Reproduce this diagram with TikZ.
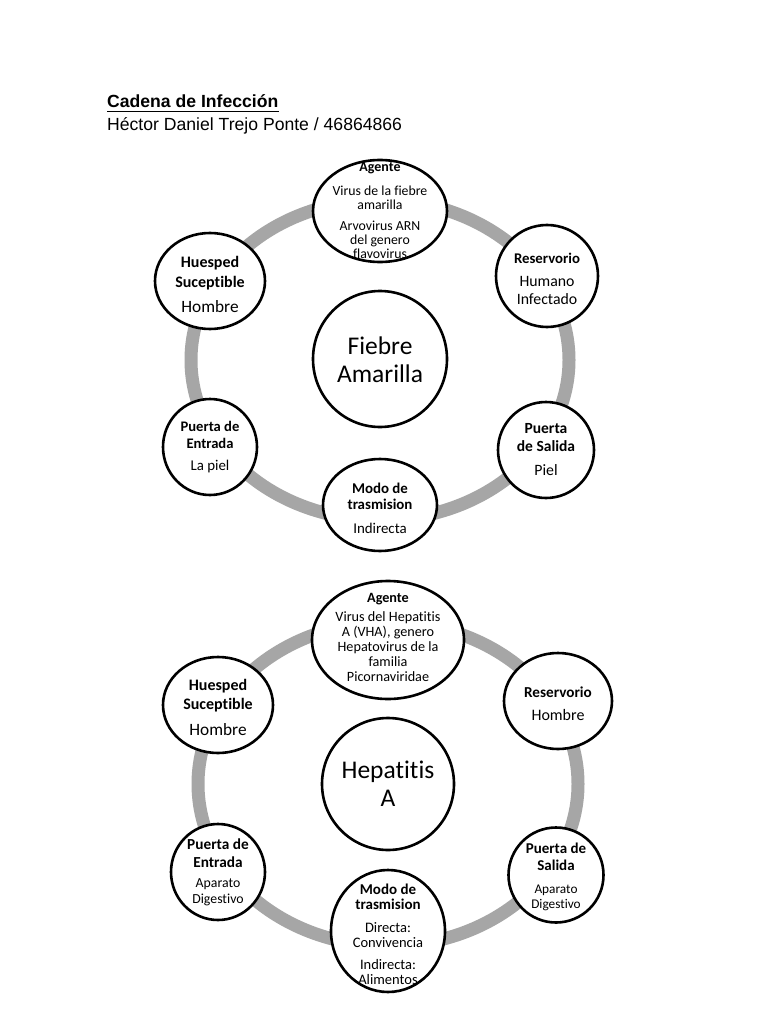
\documentclass[tikz,border=0pt]{standalone}
\usepackage{fontspec}
\setmainfont{Liberation Sans}
\newfontfamily\carl[Ligatures=CommonOff]{Carlito}
\newfontfamily\arialf{Liberation Sans}
\usetikzlibrary{shapes.geometric}
\definecolor{ringgray}{RGB}{166,166,166}
\tikzset{
  ringline/.style={draw=ringgray, line width=13pt},
  bub/.style={draw=black, line width=2.6pt, fill=white, ellipse, inner sep=0pt, outer sep=0pt},
  txt/.style={align=center, inner sep=0pt},
  big/.style={align=center, inner sep=0pt, font=\carl\fontsize{25.5}{28}\selectfont},
}
\newcommand{\fs}[2]{\carl\fontsize{#1}{#2}\selectfont}
\newcommand{\hb}[2]{{\bfseries\fontsize{#1}{#1}\selectfont #2}}
\begin{document}
\begin{tikzpicture}[x=1pt,y=-1pt]
\useasboundingbox[fill=white] (0,0) rectangle (768,1024);
% header
\node[anchor=base west, inner sep=0pt, font=\arialf\bfseries\fontsize{17.6}{20}\selectfont] (title) at (107,108) {Cadena de Infección};
\draw[line width=1.3pt] ([yshift=-3.2pt]title.base west) -- ([yshift=-3.2pt]title.base east);
\node[anchor=base west, inner sep=0pt, font=\arialf\fontsize{17.6}{20}\selectfont] (author) at (107,131) {Héctor Daniel Trejo Ponte / 46864866};

% ===== Fiebre Amarilla =====
\draw[ringline] (380,360) ellipse [x radius=189pt, y radius=160pt];
\node[bub, minimum width=134pt, minimum height=102pt] (fa-ag) at (380,211) {};
\node[bub, minimum width=102pt, minimum height=102pt] (fa-res) at (547,276) {};
\node[bub, minimum width=110pt, minimum height=96pt] (fa-hue) at (210,281) {};
\node[bub, minimum width=134pt, minimum height=136pt] (fa-c) at (380,359) {};
\node[bub, minimum width=94pt, minimum height=96pt] (fa-pe) at (210,447) {};
\node[bub, minimum width=96pt, minimum height=96pt] (fa-ps) at (546,450) {};
\node[bub, minimum width=114pt, minimum height=92pt] (fa-mo) at (380,505) {};

\node[txt, font=\fs{13.8}{14}] (fa-ag-t) at (380,211) {\hb{14}{Agente}\\[10pt]Virus de la fiebre\\amarilla\\[7pt]Arvovirus ARN\\del genero\\flavovirus};
\node[txt, font=\fs{15.8}{18}] (fa-res-t) at (547,279) {\hb{14.8}{Reservorio}\\[5pt]Humano\\Infectado};
\node[txt, font=\fs{17.3}{20}] (fa-hue-t) at (210,284) {\hb{16}{Huesped}\\\hb{16}{Suceptible}\\[5pt]Hombre};
\node[big] (fa-c-t) at (380,360) {Fiebre\\Amarilla};
\node[txt, font=\fs{14.9}{17}] (fa-pe-t) at (210,447) {\hb{14.6}{Puerta de}\\\hb{14.6}{Entrada}\\[5pt]La piel};
\node[txt, font=\fs{15.8}{18}] (fa-ps-t) at (546,450) {\hb{15.5}{Puerta}\\\hb{15.5}{de Salida}\\[6pt]Piel};
\node[txt, font=\fs{14.9}{16}] (fa-mo-t) at (380,508) {\hb{14.9}{Modo de}\\\hb{14.9}{trasmision}\\[8pt]Indirecta};

% ===== Hepatitis A =====
\draw[ringline] (388,784) ellipse [x radius=190pt, y radius=162pt];
\node[bub, minimum width=152pt, minimum height=118pt] (ha-ag) at (388,640) {};
\node[bub, minimum width=108pt, minimum height=96pt] (ha-res) at (558,701) {};
\node[bub, minimum width=110pt, minimum height=96pt] (ha-hue) at (218,705) {};
\node[bub, minimum width=132pt, minimum height=132pt] (ha-c) at (388,784) {};
\node[bub, minimum width=94pt, minimum height=96pt] (ha-pe) at (218,872) {};
\node[bub, minimum width=95pt, minimum height=95pt] (ha-ps) at (556,875) {};
\node[bub, minimum width=114pt, minimum height=122pt] (ha-mo) at (388,931) {};

\node[txt, font=\fs{14.2}{15}] (ha-ag-t) at (388,637) {\hb{14.2}{Agente}\\[4pt]Virus del Hepatitis\\A (VHA), genero\\Hepatovirus de la\\familia\\Picornaviridae};
\node[txt, font=\fs{16}{18}] (ha-res-t) at (558,704) {\hb{15.2}{Reservorio}\\[5pt]Hombre};
\node[txt, font=\fs{17.3}{19}] (ha-hue-t) at (218,707) {\hb{16}{Huesped}\\\hb{16}{Suceptible}\\[7pt]Hombre};
\node[big] (ha-c-t) at (388,784) {Hepatitis\\A};
\node[txt, font=\fs{13.8}{16}] (ha-pe-t) at (218,872) {\hb{15.3}{Puerta de}\\[2pt]\hb{15.3}{Entrada}\\[4pt]Aparato\\Digestivo};
\node[txt, font=\fs{13.3}{15}] (ha-ps-t) at (556,877) {\hb{15}{Puerta de}\\[2pt]\hb{15}{Salida}\\[8pt]Aparato\\Digestivo};
\node[txt, font=\fs{14.5}{15}] (ha-mo-t) at (388,934) {\hb{15}{Modo de}\\\hb{15}{trasmision}\\[8pt]Directa:\\Convivencia\\[7pt]Indirecta:\\Alimentos};
\end{tikzpicture}
\end{document}
